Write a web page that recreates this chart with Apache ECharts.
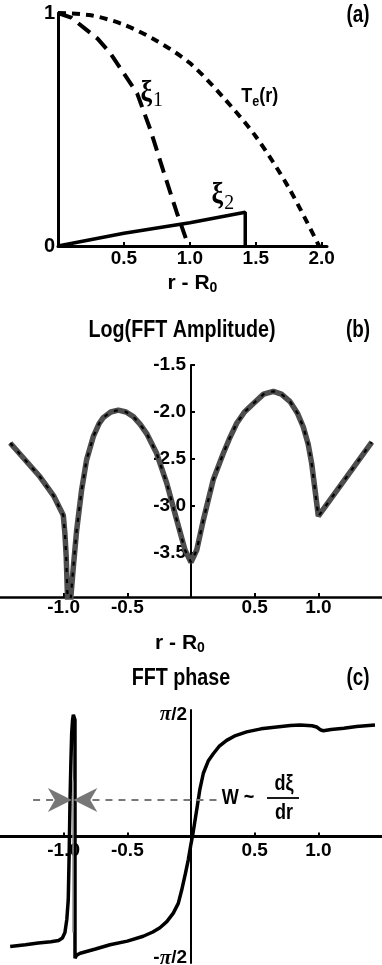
<!DOCTYPE html>
<html><head><meta charset="utf-8">
<script src="https://cdn.jsdelivr.net/npm/echarts@6/dist/echarts.min.js"></script>
<style>html,body{margin:0;padding:0;background:#fff}#c{width:382px;height:965px}</style>
</head><body><div id="c"></div><script>
// ---------- data ----------
// panel (a): profiles vs r - R0
const xi1 = [[0,1.0],[0.1,0.98],[0.2,0.935],[0.3,0.89],[0.4,0.825],[0.5,0.74],[0.6,0.655],[0.7,0.50],[0.8,0.32],[0.9,0.145],[0.99,0.0]];
const teProfile = [[0,1.0],[0.25,0.99],[0.5,0.95],[0.75,0.88],[1.0,0.785],[1.25,0.64],[1.5,0.47],[1.75,0.25],[1.98,0.0]];
const xi2 = [[0,0],[0.5,0.055],[1.0,0.1],[1.42,0.145],[1.42,0]];
// panel (b): log FFT amplitude
const fftAmp = [[-1.42,-2.33],[-1.186,-2.69],[-1.08,-2.89],[-1.003,-3.10],[-0.99,-3.3],[-0.98,-3.54],[-0.97,-3.96],[-0.956,-4.35],[-0.943,-3.96],[-0.924,-3.65],[-0.898,-3.26],[-0.859,-2.83],[-0.82,-2.51],[-0.767,-2.26],[-0.72,-2.12],[-0.689,-2.06],[-0.63,-2.0],[-0.571,-1.98],[-0.51,-2.0],[-0.453,-2.05],[-0.40,-2.13],[-0.348,-2.23],[-0.27,-2.44],[-0.19,-2.76],[-0.112,-3.15],[-0.047,-3.47],[0.0,-3.6],[0.045,-3.47],[0.097,-3.15],[0.175,-2.72],[0.254,-2.44],[0.30,-2.29],[0.359,-2.12],[0.42,-2.0],[0.49,-1.91],[0.57,-1.81],[0.647,-1.78],[0.71,-1.81],[0.778,-1.89],[0.835,-2.01],[0.882,-2.16],[0.92,-2.34],[0.948,-2.55],[0.975,-2.84],[1.0,-3.11],[1.42,-2.32]];
// panel (c): FFT phase, in units of pi/2
const fftPhase = [[-1.42,-0.905],[-1.3,-0.89],[-1.2,-0.875],[-1.1,-0.865],[-1.04,-0.855],[-1.01,-0.835],[-0.99,-0.79],[-0.975,-0.68],[-0.964,-0.52],[-0.957,-0.15],[-0.95,0.30],[-0.943,0.62],[-0.937,0.85],[-0.93,0.96],[-0.924,1.0],[-0.917,0.99],[-0.911,0.96],[-0.911,-1.0],[-0.898,-0.975],[-0.87,-0.96],[-0.75,-0.925],[-0.636,-0.89],[-0.5,-0.86],[-0.375,-0.82],[-0.3,-0.785],[-0.244,-0.75],[-0.19,-0.70],[-0.139,-0.63],[-0.1,-0.55],[-0.073,-0.44],[-0.045,-0.31],[-0.021,-0.19],[0.0,-0.06],[0.013,0.01],[0.045,0.22],[0.07,0.39],[0.097,0.52],[0.135,0.62],[0.175,0.68],[0.22,0.74],[0.28,0.79],[0.35,0.83],[0.437,0.86],[0.55,0.885],[0.673,0.90],[0.78,0.912],[0.856,0.917],[0.95,0.91],[0.987,0.90],[1.02,0.875],[1.04,0.87],[1.1,0.88],[1.2,0.89],[1.3,0.905],[1.445,0.917]];
// tick values
const ticksAx = [0.5,1.0,1.5,2.0];
const ticksAy = [0,1];
const ticksBx = [-1.0,-0.5,0.5,1.0];
const ticksBy = [-3.5,-3.0,-2.5,-2.0,-1.5];
const ticksCx = [-1.0,-0.5,0.5,1.0];
const ticksCy = [-1,1];
// annotation anchors (data coords)
const labelsA = [
  {value:[0.71,0.655], text:'{g|ξ}{s|1}'},
  {value:[1.53,0.64], text:'{t|T}{e|e}{t|(r)}'},
  {value:[1.25,0.215], text:'{g|ξ}{s|2}'}
];
const labelsC = [
  {value:[0.37,0.317], text:'W ~'},
  {value:[0.73,0.43], text:'dξ'},
  {value:[0.73,0.19], text:'dr'}
];
const arrowY = 0.30;

// ---------- chart ----------
const FONT = "'Liberation Sans Narrow','Liberation Sans',Arial,sans-serif";
const SERIF = "'Liberation Serif','DejaVu Serif',serif";
const lbl = {color:'#000', fontFamily:FONT, fontWeight:'bold', fontSize:19};
const subRich = {s:{color:'#000', fontFamily:FONT, fontWeight:'bold', fontSize:14, padding:[9,0,0,0]}};
const gridA = {left:58, top:13, width:269, height:233};
const gridB = {left:0, top:365, width:382, height:232};
const gridC = {left:0, top:710, width:382, height:253};
const xRangeBC = [-1.5, 1.5];
const yRangeB = [-3.97, -1.5];
const yRangeC = [-1.04, 1.04];
// pixel offset that puts an axis through the other axis' zero
const zeroOffX = -(0 - xRangeBC[0]) / (xRangeBC[1] - xRangeBC[0]) * gridB.width;
const zeroOffYC = -(0 - yRangeC[0]) / (yRangeC[1] - yRangeC[0]) * gridC.height;

function axisCommon(width){
  return {axisLine:{show:true, onZero:false, lineStyle:{color:'#000', width:width}}, splitLine:{show:false}};
}
const chart = echarts.init(document.getElementById('c'), null, {renderer:'canvas'});
const arrowPath = 'path://M11,0 L22,24 L11,17 L0,24 Z';
chart.setOption({
  animation:false,
  backgroundColor:'#fff',
  textStyle:{fontFamily:FONT},
  grid:[Object.assign({outerBoundsMode:'none'}, gridA), Object.assign({outerBoundsMode:'none'}, gridB), Object.assign({outerBoundsMode:'none'}, gridC)],
  xAxis:[
    Object.assign(axisCommon(3), {gridIndex:0, type:'value', min:0, max:2.04, position:'bottom',
      axisTick:{show:true, inside:true, length:4, customValues:ticksAx, lineStyle:{color:'#000', width:2}},
      axisLabel:{show:true, customValues:ticksAx, margin:3, formatter:v=>Number(v).toFixed(1), ...lbl},
      name:'r - R{s|0}', nameLocation:'middle', nameGap:26,
      nameTextStyle:{...lbl, fontSize:21, rich:subRich}}),
    Object.assign(axisCommon(2.5), {gridIndex:1, type:'value', min:xRangeBC[0], max:xRangeBC[1], position:'bottom',
      axisTick:{show:true, inside:true, length:4, customValues:ticksBx, lineStyle:{color:'#000', width:2}},
      axisLabel:{show:true, customValues:ticksBx, margin:1, formatter:v=>Number(v).toFixed(1), ...lbl},
      name:'r - R{s|0}', nameLocation:'middle', nameGap:35,
      nameTextStyle:{...lbl, fontSize:21, rich:subRich, padding:[0,22,0,0]}}),
    Object.assign(axisCommon(3), {gridIndex:2, type:'value', min:xRangeBC[0], max:xRangeBC[1], position:'bottom', offset:zeroOffYC,
      axisTick:{show:true, inside:true, length:4, customValues:ticksCx, lineStyle:{color:'#000', width:2}},
      axisLabel:{show:true, customValues:ticksCx, margin:5, formatter:v=>Number(v).toFixed(1), ...lbl}})
  ],
  yAxis:[
    Object.assign(axisCommon(3), {gridIndex:0, type:'value', min:0, max:1, position:'left',
      axisTick:{show:false},
      axisLabel:{show:true, customValues:ticksAy, margin:3, formatter:v=>String(v), ...lbl, fontSize:20}}),
    Object.assign(axisCommon(2), {gridIndex:1, type:'value', min:yRangeB[0], max:yRangeB[1], position:'left', offset:zeroOffX,
      axisTick:{show:true, inside:true, length:4, customValues:ticksBy, lineStyle:{color:'#000', width:2}},
      axisLabel:{show:true, customValues:ticksBy, margin:5, formatter:v=>Number(v).toFixed(1), ...lbl}}),
    Object.assign(axisCommon(2), {gridIndex:2, type:'value', min:yRangeC[0], max:yRangeC[1], position:'left', offset:zeroOffX,
      axisTick:{show:false},
      axisLabel:{show:true, customValues:ticksCy, margin:4,
        formatter:v=> (Number(v)>0?'':'-')+'{p|π}/2', ...lbl,
        rich:{p:{fontFamily:SERIF, fontStyle:'italic', fontSize:21, color:'#000'}}}})
  ],
  series:[
    {type:'line', xAxisIndex:0, yAxisIndex:0, data:xi1, showSymbol:false, symbol:'none',
      lineStyle:{color:'#000', width:4, type:[15,8]}, z:3},
    {type:'line', xAxisIndex:0, yAxisIndex:0, data:teProfile, smooth:0.3, showSymbol:false, symbol:'none',
      lineStyle:{color:'#000', width:4, type:[8,6]}, z:3},
    {type:'line', xAxisIndex:0, yAxisIndex:0, data:xi2, showSymbol:false, symbol:'none',
      lineStyle:{color:'#000', width:3.5}, z:3},
    {type:'line', xAxisIndex:1, yAxisIndex:1, data:fftAmp, showSymbol:false, symbol:'none',
      lineStyle:{color:'#4d4d4d', width:5.5}, z:3},
    {type:'line', xAxisIndex:1, yAxisIndex:1, data:fftAmp, showSymbol:false, symbol:'none',
      lineStyle:{color:'#000', width:2.2, type:[4,7]}, z:4},
    {type:'line', xAxisIndex:2, yAxisIndex:2, data:fftPhase, showSymbol:false, symbol:'none',
      lineStyle:{color:'#000', width:3.5}, z:3,
      markLine:{silent:true, animation:false, label:{show:false}, symbol:['none','none'],
        data:[
          [{coord:[-1.24,arrowY], symbol:'none', lineStyle:{color:'#777', width:2, type:[7,6]}},
           {coord:[-1.03,arrowY], symbol:arrowPath, symbolSize:24}],
          [{coord:[0.2,arrowY], symbol:'none', lineStyle:{color:'#777', width:2, type:[7,6]}},
           {coord:[-0.83,arrowY], symbol:arrowPath, symbolSize:24}],
          [{coord:[-0.932,0.46], symbol:'none', lineStyle:{color:'#8a8a8a', width:1.5, type:'solid'}},
           {coord:[-0.932,-0.79], symbol:'none'}],
          [{coord:[0.597,0.317], symbol:'none', lineStyle:{color:'#000', width:1.8, type:'solid'}},
           {coord:[0.848,0.317], symbol:'none'}]
        ]}}
  ]
});

// ---------- text: titles, panel tags and annotations ----------
function txt(x, y, text, font, extra){
  return Object.assign({type:'text', x:x, y:y, z:50,
    style:Object.assign({text:text, font:font, fill:'#000', textAlign:'center', textVerticalAlign:'middle'}, extra && extra.style || {})},
    extra && extra.el || {});
}
const narrow = {el:{scaleX:0.82}};
const graphics = [
  txt(358, 16, '(a)', 'bold 23px '+FONT, narrow),
  txt(182, 330, 'Log(FFT Amplitude)', 'bold 24px '+FONT, narrow),
  txt(358, 331, '(b)', 'bold 23px '+FONT, narrow),
  txt(181, 678, 'FFT phase', 'bold 24px '+FONT, narrow),
  txt(358, 679, '(c)', 'bold 23px '+FONT, narrow)
];
const richA = {
  g:{fontFamily:SERIF, fontWeight:'bold', fontSize:29, fill:'#000'},
  s:{fontFamily:SERIF, fontSize:22, fill:'#000', padding:[14,0,0,1]},
  t:{fontFamily:FONT, fontWeight:'bold', fontSize:20, fill:'#000'},
  e:{fontFamily:FONT, fontWeight:'bold', fontSize:14, fill:'#000', padding:[10,0,0,0]}
};
labelsA.forEach(d=>{
  const p = chart.convertToPixel({gridIndex:0}, d.value);
  graphics.push(txt(p[0], p[1], d.text, 'bold 20px '+FONT, {style:{rich:richA}, el:{scaleX:0.9}}));
});
labelsC.forEach(d=>{
  const p = chart.convertToPixel({gridIndex:2}, d.value);
  graphics.push(txt(p[0], p[1], d.text, 'bold 22px '+FONT, narrow));
});
chart.setOption({graphic:graphics});
</script></body></html>
